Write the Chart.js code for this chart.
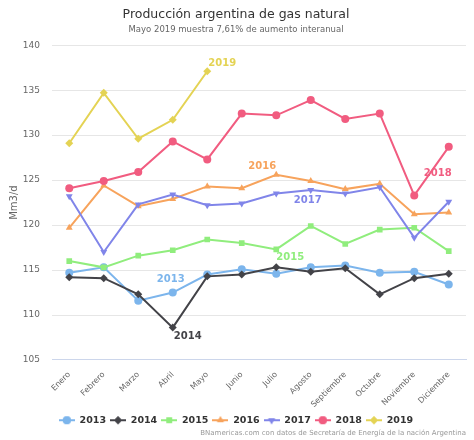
<!DOCTYPE html>
<html>
<head>
<meta charset="utf-8">
<script src="https://cdn.jsdelivr.net/npm/chart.js@4/dist/chart.umd.min.js"></script>
<style>
  html, body { margin: 0; padding: 0; background: #fff; }
  #wrap { width: 474px; height: 440px; }
</style>
</head>
<body>
<div id="wrap"><canvas id="gas-chart"></canvas></div>
<script>
// Meses y producción mensual (Mm3/d) por año
const MONTHS = ['Enero', 'Febrero', 'Marzo', 'Abril', 'Mayo', 'Junio', 'Julio',
                'Agosto', 'Septiembre', 'Octubre', 'Noviembre', 'Diciembre'];
const Y_TICKS = [105, 110, 115, 120, 125, 130, 135, 140];

const gas2013 = [114.7, 115.3, 111.6, 112.5, 114.5, 115.1, 114.6, 115.3, 115.5, 114.7, 114.8, 113.4];
const gas2014 = [114.2, 114.1, 112.3, 108.6, 114.3, 114.5, 115.3, 114.8, 115.2, 112.3, 114.1, 114.6];
const gas2015 = [116.0, 115.3, 116.6, 117.2, 118.4, 118.0, 117.3, 119.9, 117.9, 119.5, 119.7, 117.1];
const gas2016 = [119.7, 124.4, 122.1, 122.9, 124.3, 124.1, 125.6, 124.9, 124.0, 124.6, 121.2, 121.4];
const gas2017 = [123.2, 117.0, 122.3, 123.4, 122.2, 122.4, 123.5, 123.9, 123.5, 124.2, 118.6, 122.6];
const gas2018 = [124.1, 124.9, 125.9, 129.3, 127.3, 132.4, 132.2, 133.9, 131.8, 132.4, 123.3, 128.7];
const gas2019 = [129.1, 134.7, 129.6, 131.7, 137.1];

const SERIES = [
    { label: '2013', data: gas2013, color: '#7cb5ec', style: 'circle',   rot: 0,   tag: { i: 3,  dx: -2,  dy: -13 } },
    { label: '2014', data: gas2014, color: '#434348', style: 'rectRot',  rot: 0,   tag: { i: 3,  dx: 15,  dy: 9 } },
    { label: '2015', data: gas2015, color: '#90ed7d', style: 'rect',     rot: 0,   tag: { i: 6,  dx: 14,  dy: 8 } },
    { label: '2016', data: gas2016, color: '#f7a35c', style: 'triangle', rot: 0,   tag: { i: 6,  dx: -14, dy: -8 } },
    { label: '2017', data: gas2017, color: '#8085e9', style: 'triangle', rot: 180, tag: { i: 7,  dx: -3,  dy: 10 } },
    { label: '2018', data: gas2018, color: '#f15c80', style: 'circle',   rot: 0,   tag: { i: 11, dx: -11, dy: 27 } },
    { label: '2019', data: gas2019, color: '#e4d354', style: 'rectRot',  rot: 0,   tag: { i: 4,  dx: 15,  dy: -8 } }
];

const FONT = "'DejaVu Sans', 'Liberation Sans', sans-serif";

// Little line + marker icon for the legend, like the original
function legendIcon(s) {
    const c = document.createElement('canvas');
    c.width = 16; c.height = 10;
    const g = c.getContext('2d');
    g.strokeStyle = s.color;
    g.lineWidth = 2;
    g.beginPath(); g.moveTo(0, 5); g.lineTo(16, 5); g.stroke();
    g.fillStyle = s.color;
    Chart.helpers.drawPoint(g, { pointStyle: s.style, radius: 4, rotation: s.rot }, 8, 5);
    g.fill();
    return c;
}

// Series name next to its line
const seriesTags = {
    id: 'seriesTags',
    afterDatasetsDraw(chart) {
        const ctx = chart.ctx;
        ctx.save();
        ctx.font = 'bold 10px ' + FONT;
        ctx.textAlign = 'center';
        ctx.textBaseline = 'middle';
        chart.data.datasets.forEach((ds, k) => {
            const t = SERIES[k].tag;
            const pt = chart.getDatasetMeta(k).data[t.i];
            if (!pt) return;
            ctx.fillStyle = ds.borderColor;
            ctx.fillText(ds.label, pt.x + t.dx, pt.y + t.dy);
        });
        ctx.restore();
    }
};

const credits = {
    id: 'credits',
    afterDraw(chart) {
        const ctx = chart.ctx;
        ctx.save();
        ctx.font = '7px ' + FONT;
        ctx.fillStyle = '#999999';
        ctx.textAlign = 'right';
        ctx.textBaseline = 'middle';
        ctx.fillText('BNamericas.com con datos de Secretaría de Energía de la nación Argentina', 466, 433);
        ctx.restore();
    }
};

const ctx = document.getElementById('gas-chart').getContext('2d');
new Chart(ctx, {
    type: 'line',
    data: {
        labels: MONTHS,
        datasets: SERIES.map((s, k) => ({
            label: s.label,
            data: s.data,
            borderColor: s.color,
            backgroundColor: s.color,
            borderWidth: 2,
            pointStyle: s.style,
            pointRotation: s.rot,
            pointRadius: 4,
            pointBorderWidth: 0,
            tension: 0,
            fill: false,
            order: SERIES.length - k   // later years on top
        }))
    },
    options: {
        responsive: true,
        maintainAspectRatio: false,
        animation: false,
        layout: { padding: { left: 6, right: 8, bottom: 5 } },
        scales: {
            x: {
                offset: true,
                grid: { display: false },
                border: { color: '#ccd6eb' },
                ticks: {
                    color: '#666666',
                    font: { family: FONT, size: 8 },
                    minRotation: 45,
                    maxRotation: 45,
                    padding: 2
                }
            },
            y: {
                min: Y_TICKS[0],
                max: Y_TICKS[Y_TICKS.length - 1],
                afterBuildTicks: axis => { axis.ticks = Y_TICKS.map(v => ({ value: v })); },
                afterFit: axis => { axis.width = 46; },
                grid: { color: '#e6e6e6', drawTicks: false },
                border: { display: false },
                ticks: {
                    color: '#666666',
                    font: { family: FONT, size: 9 },
                    padding: 12
                },
                title: {
                    display: true,
                    text: 'Mm3/d',
                    color: '#666666',
                    font: { family: FONT, size: 10 },
                    padding: { top: 2, bottom: 0 }
                }
            }
        },
        plugins: {
            title: {
                display: true,
                text: 'Producción argentina de gas natural',
                color: '#333333',
                font: { family: FONT, size: 12.5, weight: 'normal' },
                padding: { top: 7, bottom: 2 }
            },
            subtitle: {
                display: true,
                text: 'Mayo 2019 muestra 7,61% de aumento interanual',
                color: '#666666',
                font: { family: FONT, size: 8.5 },
                padding: { top: 1, bottom: 10 }
            },
            legend: {
                position: 'bottom',
                labels: {
                    color: '#333333',
                    font: { family: FONT, size: 9.5, weight: 'bold' },
                    usePointStyle: true,
                    pointStyleWidth: 16,
                    boxHeight: 10,
                    padding: 4,
                    generateLabels: chart => chart.data.datasets.map((ds, k) => ({
                        text: ds.label,
                        fillStyle: ds.borderColor,
                        strokeStyle: ds.borderColor,
                        fontColor: '#333333',
                        pointStyle: legendIcon(SERIES[k]),
                        lineWidth: 0,
                        datasetIndex: k,
                        hidden: !chart.isDatasetVisible(k)
                    }))
                }
            },
            tooltip: { mode: 'index', intersect: false }
        }
    },
    plugins: [seriesTags, credits]
});
</script>
</body>
</html>
